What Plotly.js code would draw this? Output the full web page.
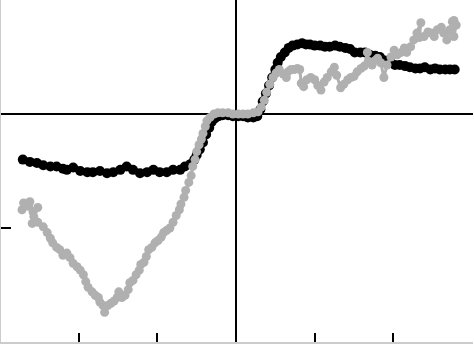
<!DOCTYPE html>
<html>
<head>
<meta charset="utf-8">
<script src="https://cdn.plot.ly/plotly-3.0.1.min.js"></script>
<style>html,body{margin:0;padding:0;background:#fff;}#chart{width:474px;height:344px;}</style>
</head>
<body>
<div id="chart"></div>
<script>
// Black series
var blackX = [-2.71,-2.62,-2.53,-2.45,-2.36,-2.28,-2.20,-2.15,-2.07,-1.98,-1.89,-1.82,-1.73,-1.64,-1.56,-1.47,-1.39,-1.31,-1.22,-1.13,-1.05,-0.97,-0.88,-0.80,-0.71,-0.65,-0.58,-0.53,-0.50,-0.46,-0.42,-0.38,-0.34,-0.31,-0.27,-0.22,-0.17,-0.10,-0.04,0.03,0.09,0.15,0.22,0.27,0.31,0.34,0.38,0.42,0.46,0.50,0.53,0.57,0.62,0.67,0.72,0.78,0.84,0.89,0.94,1.00,1.07,1.13,1.19,1.26,1.32,1.39,1.45,1.51,1.58,1.64,1.70,1.77,1.83,1.89,1.96,2.02,2.08,2.15,2.21,2.28,2.34,2.40,2.47,2.53,2.59,2.66,2.72,2.78];
var blackY = [-0.40,-0.42,-0.43,-0.45,-0.46,-0.46,-0.48,-0.49,-0.47,-0.50,-0.51,-0.51,-0.50,-0.52,-0.51,-0.49,-0.46,-0.49,-0.52,-0.51,-0.49,-0.51,-0.51,-0.49,-0.49,-0.46,-0.44,-0.40,-0.36,-0.31,-0.25,-0.18,-0.12,-0.07,-0.04,-0.02,-0.01,-0.01,-0.02,-0.02,-0.02,-0.03,-0.03,-0.02,0.04,0.11,0.18,0.25,0.32,0.39,0.45,0.50,0.54,0.58,0.60,0.61,0.62,0.61,0.61,0.60,0.60,0.59,0.59,0.60,0.59,0.58,0.57,0.54,0.54,0.54,0.52,0.51,0.50,0.47,0.46,0.43,0.43,0.42,0.41,0.40,0.40,0.41,0.39,0.40,0.39,0.39,0.39,0.39];

// Gray series
var grayX = [-2.72,-2.70,-2.64,-2.62,-2.58,-2.52,-2.57,-2.59,-2.52,-2.45,-2.40,-2.36,-2.33,-2.28,-2.24,-2.20,-2.15,-2.11,-2.07,-2.02,-1.98,-1.94,-1.91,-1.88,-1.83,-1.79,-1.75,-1.73,-1.69,-1.67,-1.63,-1.59,-1.55,-1.51,-1.49,-1.45,-1.41,-1.37,-1.35,-1.31,-1.27,-1.23,-1.21,-1.17,-1.14,-1.11,-1.07,-1.03,-0.99,-0.95,-0.92,-0.88,-0.84,-0.80,-0.76,-0.72,-0.70,-0.66,-0.64,-0.60,-0.57,-0.55,-0.52,-0.50,-0.47,-0.44,-0.42,-0.39,-0.37,-0.33,-0.28,-0.23,-0.17,-0.10,-0.04,0.03,0.09,0.15,0.22,0.28,0.32,0.36,0.39,0.43,0.47,0.51,0.55,0.60,0.64,0.66,0.70,0.74,0.78,0.81,0.83,0.86,0.90,0.95,1.00,1.04,1.08,1.12,1.16,1.21,1.25,1.28,1.33,1.37,1.42,1.46,1.50,1.54,1.59,1.63,1.67,1.69,1.73,1.77,1.80,1.84,1.88,1.92,1.97,2.01,2.05,2.10,2.14,2.17,2.22,2.26,2.30,2.35,2.33,2.39,2.44,2.48,2.52,2.56,2.61,2.64,2.68,2.72,2.75,2.77,2.80,2.77];
var grayY = [-0.84,-0.78,-0.81,-0.77,-0.86,-0.82,-0.90,-0.96,-0.95,-0.99,-1.04,-1.09,-1.13,-1.17,-1.19,-1.24,-1.22,-1.26,-1.31,-1.34,-1.37,-1.41,-1.47,-1.52,-1.56,-1.59,-1.61,-1.65,-1.68,-1.74,-1.68,-1.66,-1.64,-1.61,-1.56,-1.61,-1.59,-1.54,-1.48,-1.46,-1.41,-1.37,-1.32,-1.30,-1.25,-1.19,-1.17,-1.13,-1.11,-1.08,-1.04,-1.02,-1.00,-0.95,-0.89,-0.84,-0.79,-0.73,-0.67,-0.60,-0.54,-0.46,-0.40,-0.33,-0.27,-0.22,-0.17,-0.11,-0.06,-0.03,0.00,0.01,0.01,0.01,0.00,0.00,0.00,0.00,0.01,0.02,0.06,0.12,0.19,0.26,0.32,0.36,0.39,0.35,0.32,0.37,0.39,0.39,0.40,0.39,0.27,0.24,0.30,0.32,0.30,0.25,0.21,0.28,0.32,0.37,0.41,0.34,0.23,0.26,0.30,0.32,0.33,0.37,0.40,0.42,0.54,0.46,0.43,0.47,0.49,0.45,0.32,0.43,0.50,0.56,0.52,0.54,0.58,0.54,0.59,0.65,0.71,0.80,0.67,0.68,0.72,0.71,0.68,0.74,0.76,0.71,0.65,0.74,0.81,0.82,0.78,0.68];

var traces = [
  {x: blackX, y: blackY, type: 'scatter', mode: 'lines+markers',
   line: {color: '#000000', width: 6},
   marker: {color: '#000000', size: 10}, hoverinfo: 'skip'},
  {x: grayX, y: grayY, type: 'scatter', mode: 'lines+markers',
   line: {color: '#b0b0b0', width: 3},
   marker: {color: '#b0b0b0', size: 9}, hoverinfo: 'skip'}
];

var layout = {
  width: 474, height: 344,
  margin: {l: 1, r: 1, t: 0, b: 2, pad: 0},
  paper_bgcolor: '#ffffff', plot_bgcolor: '#ffffff',
  showlegend: false,
  xaxis: {range: [-2.9873, 3.0127], showgrid: false, zeroline: true,
          zerolinecolor: '#000000', zerolinewidth: 2,
          showline: true, linecolor: '#cccccc', linewidth: 2,
          ticks: 'inside', ticklen: 9, tickwidth: 2, tickcolor: '#000000',
          tickmode: 'array', tickvals: [-2, -1, 1, 2], showticklabels: false},
  yaxis: {range: [-2, 1], showgrid: false, zeroline: true,
          zerolinecolor: '#000000', zerolinewidth: 2,
          showline: true, linecolor: '#cccccc', linewidth: 2,
          ticks: 'inside', ticklen: 10, tickwidth: 2, tickcolor: '#000000',
          tickmode: 'array', tickvals: [-1], showticklabels: false}
};

Plotly.newPlot('chart', traces, layout, {staticPlot: true, displayModeBar: false});
</script>
</body>
</html>
